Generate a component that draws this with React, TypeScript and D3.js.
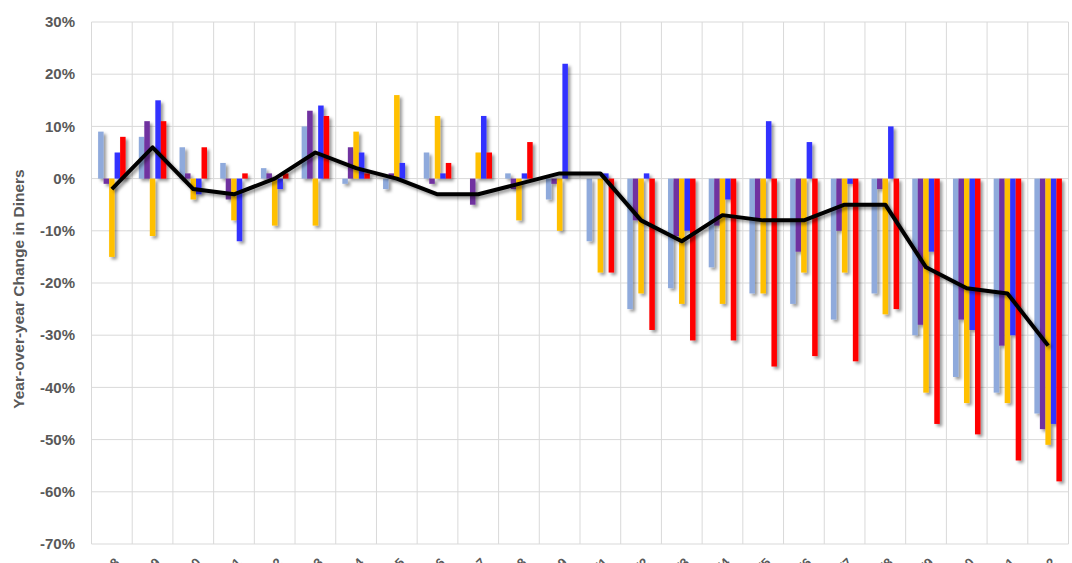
import React, { useEffect } from 'react';
import * as d3 from 'd3';

const categories = ['2/18', '2/19', '2/20', '2/21', '2/22', '2/23', '2/24', '2/25', '2/26', '2/27', '2/28', '2/29',
  '3/1', '3/2', '3/3', '3/4', '3/5', '3/6', '3/7', '3/8', '3/9', '3/10', '3/11', '3/12'];

const seriesA = [9, 8, 6, 3, 2, 10, -1, -2, 5, 0, 1, -4, -12, -25, -21, -17, -22, -24, -27, -22, -30, -38, -41, -45];
const seriesB = [-1, 11, 1, -4, 1, 13, 6, 1, -1, -5, -2, -1, 0, -8, -11, -9, -8, -14, -10, -2, -28, -27, -32, -48];
const seriesC = [-15, -11, -4, -8, -9, -9, 9, 16, 12, 5, -8, -10, -18, -22, -24, -24, -22, -18, -18, -26, -41, -43, -43, -51];
const seriesD = [5, 15, -3, -12, -2, 14, 5, 3, 1, 12, 1, 22, 1, 1, -10, -4, 11, 7, -1, 10, -14, -29, -30, -47];
const seriesE = [8, 11, 6, 1, 1, 12, 1, 0, 3, 5, 7, 0, -18, -29, -31, -31, -36, -34, -35, -25, -47, -49, -54, -58];
const average = [-2, 6, -2, -3, 0, 5, 2, 0, -3, -3, -1, 1, 1, -8, -12, -7, -8, -8, -5, -5, -17, -21, -22, -32];

const yTicks = [30, 20, 10, 0, -10, -20, -30, -40, -50, -60, -70];

const series = [
  { key: 'a', values: seriesA, color: '#8FAADC' },
  { key: 'b', values: seriesB, color: '#7030A0' },
  { key: 'c', values: seriesC, color: '#FFC000' },
  { key: 'd', values: seriesD, color: '#3333FF' },
  { key: 'e', values: seriesE, color: '#FF0000' },
];

const W = 1072;
const H = 563;
const plot = { left: 91.5, right: 1068.5, top: 22, bottom: 544 };

export default function App() {
  useEffect(() => {
    document.body.style.margin = '0';
  }, []);

  const x0 = d3.scaleBand<string>().domain(categories).range([plot.left, plot.right]);
  const x1 = d3.scaleBand<string>()
    .domain(series.map(s => s.key))
    .range([0, x0.bandwidth()])
    .paddingOuter(1.2);
  const y = d3.scaleLinear().domain([-70, 30]).range([plot.bottom, plot.top]);

  const line = d3.line<number>()
    .x((_, i) => (x0(categories[i]) as number) + x0.bandwidth() / 2)
    .y(d => y(d));

  const font = '"Liberation Sans", Arial, sans-serif';

  return (
    <svg width={W} height={H} style={{ display: 'block', background: '#fff' }}>
      <defs>
        <filter id="shadow" x="-50%" y="-10%" width="200%" height="120%">
          <feDropShadow dx="2.5" dy="2.5" stdDeviation="1.4" floodColor="#000" floodOpacity="0.4" />
        </filter>
      </defs>

      {/* grid */}
      {yTicks.map(t => (
        <line key={t} x1={plot.left} x2={plot.right} y1={y(t)} y2={y(t)} stroke="#D9D9D9" strokeWidth={1} />
      ))}
      {categories.map(c => (
        <line key={c} x1={x0(c)} x2={x0(c)} y1={plot.top} y2={plot.bottom} stroke="#D9D9D9" strokeWidth={1} />
      ))}
      <line x1={plot.right} x2={plot.right} y1={plot.top} y2={plot.bottom} stroke="#D9D9D9" strokeWidth={1} />

      {/* bars */}
      <g filter="url(#shadow)">
        {series.map(s =>
          s.values.map((v, i) => {
            const bx = (x0(categories[i]) as number) + (x1(s.key) as number);
            const y0 = y(0);
            const yv = y(v);
            return (
              <rect key={s.key + i} x={bx} width={x1.bandwidth()}
                y={Math.min(y0, yv)} height={Math.abs(yv - y0)} fill={s.color} />
            );
          })
        )}
      </g>

      {/* average line */}
      <path d={line(average) || ''} fill="none" stroke="#000" strokeWidth={4}
        strokeLinejoin="round" filter="url(#shadow)" />

      {/* y axis labels */}
      {yTicks.map(t => (
        <text key={t} x={75} y={y(t)} dy="0.35em" textAnchor="end"
          fontFamily={font} fontSize={15} fontWeight="bold" fill="#595959">{t}%</text>
      ))}

      {/* x axis labels, rotated (cut off by the page edge as in the source) */}
      {categories.map(c => {
        const cx = (x0(c) as number) + x0.bandwidth() / 2;
        return (
          <text key={c} transform={`translate(${cx + 2},${557}) rotate(-45)`} textAnchor="end"
            dy="0.7em" fontFamily={font} fontSize={13} fontWeight="bold" fill="#595959">{c}</text>
        );
      })}

      <text transform={`translate(24,${(plot.top + plot.bottom) / 2 + 6}) rotate(-90)`} textAnchor="middle"
        fontFamily={font} fontSize={15.5} fontWeight="bold" fill="#595959">Year-over-year Change in Diners</text>
    </svg>
  );
}
